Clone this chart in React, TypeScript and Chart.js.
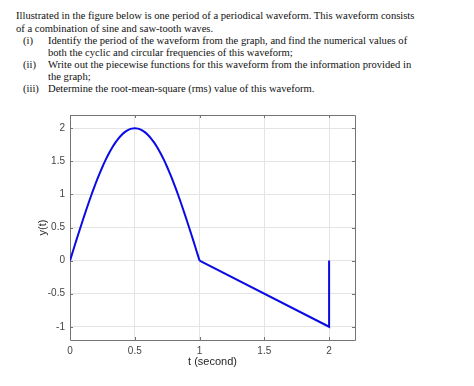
import React, { useEffect, useRef } from "react";
import { Chart, registerables } from "chart.js";
Chart.register(...registerables);

// Sine part, t in seconds
const sineT = [
  0, 0.025, 0.05, 0.075, 0.1, 0.125, 0.15, 0.175, 0.2, 0.225, 0.25, 0.275, 0.3, 0.325, 0.35, 0.375, 0.4, 0.425, 0.45, 0.475,
  0.5, 0.525, 0.55, 0.575, 0.6, 0.625, 0.65, 0.675, 0.7, 0.725, 0.75, 0.775, 0.8, 0.825, 0.85, 0.875, 0.9, 0.925, 0.95, 0.975, 1,
];
const sineY = [
  0, 0.157, 0.313, 0.467, 0.618, 0.765, 0.908, 1.045, 1.176, 1.299, 1.414, 1.521, 1.618, 1.705, 1.782, 1.848, 1.902, 1.945, 1.975, 1.994,
  2, 1.994, 1.975, 1.945, 1.902, 1.848, 1.782, 1.705, 1.618, 1.521, 1.414, 1.299, 1.176, 1.045, 0.908, 0.765, 0.618, 0.467, 0.313, 0.157, 0,
];
// Saw-tooth part
const sawT = [1, 2, 2];
const sawY = [0, -1, 0];

const xTicks = [0, 0.5, 1, 1.5, 2];
const yTicks = [-1, -0.5, 0, 0.5, 1, 1.5, 2];
const xMin = 0, xMax = 2.2;
const yMin = -1.2, yMax = 2.2;

const xTitle = "t (second)";
const yTitle = "y(t)";

const textLines = [
  { label: "", text: "Illustrated in the figure below is one period of a periodical waveform. This waveform consists", indent: false },
  { label: "", text: "of a combination of sine and saw-tooth waves.", indent: false },
  { label: "(i)", text: "Identify the period of the waveform from the graph, and find the numerical values of", indent: true },
  { label: "", text: "both the cyclic and circular frequencies of this waveform;", indent: true },
  { label: "(ii)", text: "Write out the piecewise functions for this waveform from the information provided in", indent: true },
  { label: "", text: "the graph;", indent: true },
  { label: "(iii)", text: "Determine the root-mean-square (rms) value of this waveform.", indent: true },
];
const lineCenters = [16, 28.5, 40.7, 52.7, 64.7, 76.7, 89];

const LINE_COLOR = "#0a0ae6";
const FRAME_COLOR = "#747474";
const GRID_COLOR = "#e4e4e4";
const TICK_COLOR = "#444444";

const framePlugin = {
  id: "matlabFrame",
  beforeDatasetsDraw(chart: any) {
    const { ctx, chartArea } = chart;
    const { left, right, top, bottom } = chartArea;
    const xs = chart.scales.x;
    const ys = chart.scales.y;
    ctx.save();
    ctx.strokeStyle = FRAME_COLOR;
    ctx.lineWidth = 1;
    ctx.beginPath();
    ctx.rect(Math.round(left) + 0.5, Math.round(top) + 0.5, Math.round(right - left), Math.round(bottom - top));
    ctx.stroke();
    const L = 3;
    ctx.beginPath();
    for (const v of xTicks) {
      const px = Math.round(xs.getPixelForValue(v)) + 0.5;
      ctx.moveTo(px, bottom); ctx.lineTo(px, bottom - L);
      ctx.moveTo(px, top); ctx.lineTo(px, top + L);
    }
    for (const v of yTicks) {
      const py = Math.round(ys.getPixelForValue(v)) + 0.5;
      ctx.moveTo(left, py); ctx.lineTo(left + L, py);
      ctx.moveTo(right, py); ctx.lineTo(right - L, py);
    }
    ctx.stroke();
    ctx.restore();
  },
};

function App() {
  const ref = useRef<HTMLCanvasElement>(null);
  useEffect(() => {
    if (!ref.current) return;
    const chart = new Chart(ref.current, {
      type: "line",
      data: {
        datasets: [
          {
            data: sineT.map((t, i) => ({ x: t, y: sineY[i] })),
            borderColor: LINE_COLOR,
            borderWidth: 2,
            pointRadius: 0,
            tension: 0.2,
            fill: false,
          },
          {
            data: sawT.map((t, i) => ({ x: t, y: sawY[i] })),
            borderColor: LINE_COLOR,
            borderWidth: 2,
            pointRadius: 0,
            tension: 0,
            fill: false,
          },
        ],
      },
      options: {
        animation: false,
        responsive: false,
        layout: { padding: { left: 0, right: 119, top: 15, bottom: 0 } },
        plugins: { legend: { display: false }, tooltip: { enabled: false } },
        scales: {
          x: {
            type: "linear",
            min: xMin,
            max: xMax,
            afterFit: (s: any) => { s.height = 46; },
            afterBuildTicks: (s: any) => { s.ticks = xTicks.map((v) => ({ value: v })); },
            grid: { color: GRID_COLOR, drawTicks: false },
            border: { display: false },
            ticks: {
              padding: 5,
              color: TICK_COLOR,
              font: { family: "'Liberation Sans', Arial, sans-serif", size: 10 },
              callback: (v: any) => String(v),
              maxRotation: 0,
            },
            title: {
              display: true,
              text: xTitle,
              color: "#262626",
              font: { family: "'Liberation Sans', Arial, sans-serif", size: 11 },
              padding: { top: 0, bottom: 17 },
            },
          },
          y: {
            type: "linear",
            min: yMin,
            max: yMax,
            afterFit: (s: any) => { s.width = 70; },
            afterBuildTicks: (s: any) => { s.ticks = yTicks.map((v) => ({ value: v })); },
            grid: { color: GRID_COLOR, drawTicks: false },
            border: { display: false },
            ticks: {
              padding: 5,
              color: TICK_COLOR,
              font: { family: "'Liberation Sans', Arial, sans-serif", size: 10 },
              callback: (v: any) => String(v),
            },
            title: {
              display: true,
              text: yTitle,
              color: "#262626",
              font: { family: "'Liberation Sans', Arial, sans-serif", size: 11 },
              padding: { top: 36, bottom: 0 },
            },
          },
        },
      },
      plugins: [framePlugin],
    } as any);
    return () => chart.destroy();
  }, []);

  return (
    <div style={{ position: "absolute", left: 0, top: 0, width: 474, height: 386, background: "#fff", overflow: "hidden" }}>
      {textLines.map((ln, i) => (
        <div
          key={i}
          style={{
            position: "absolute",
            top: lineCenters[i] - 7,
            left: 0,
            height: 14,
            lineHeight: "14px",
            fontFamily: "'Liberation Serif', 'Times New Roman', serif",
            fontSize: 10.6,
            color: "#111",
            whiteSpace: "nowrap",
          }}
        >
          {ln.label && <span style={{ position: "absolute", left: 23 }}>{ln.label}</span>}
          <span style={{ position: "absolute", left: ln.indent ? 48 : 16 }}>{ln.text}</span>
        </div>
      ))}
      <canvas ref={ref} width={474} height={286} style={{ position: "absolute", left: 0, top: 100, width: 474, height: 286 }} />
    </div>
  );
}

export default App;
